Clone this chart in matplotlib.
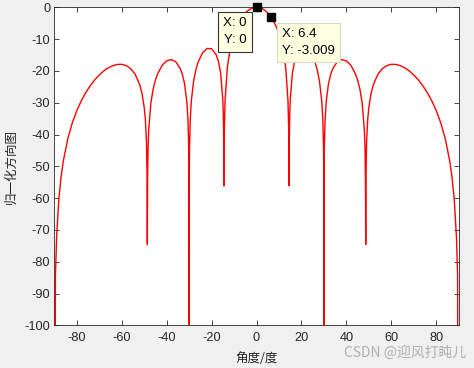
import matplotlib

matplotlib.use("Agg")
import matplotlib.pyplot as plt
import numpy as np

plt.rcParams["font.family"] = ["Liberation Sans", "Noto Sans CJK SC", "DejaVu Sans"]
plt.rcParams["axes.unicode_minus"] = False

# normalised pattern (degrees, dB); nulls fall below -100
angle_left = [-90, -89.5, -89, -88, -87, -86, -84, -82, -80, -78, -76, -74, -72,
              -70, -68, -66, -64, -62, -60, -58, -56, -54, -52, -51, -50, -49.5,
              -49, -48.7, -48.6, -48.5, -48.3, -48, -47, -46, -45, -44, -42, -40,
              -38, -36, -34, -33, -32, -31, -30.5, -30.2, -30.1, -30, -29.9, -29.8,
              -29.5, -29, -28, -27, -26, -24, -22, -20, -18, -17, -16, -15, -14.8,
              -14.6, -14.5, -14.4, -14.3, -14, -13, -12, -11, -10, -9, -8, -7,
              -6.4, -6, -5, -4, -3, -2, -1]
db_left = [-300, -84.5, -72.4, -60.4, -53.34, -48.34, -41.31, -36.33, -32.5, -29.39,
           -26.81, -24.64, -22.81, -21.28, -20.02, -19.04, -18.35, -17.96, -17.92,
           -18.32, -19.28, -21.08, -24.32, -27.03, -31.43, -35.12, -41.96, -53.36,
           -74.6, -55.0, -44.84, -38.64, -29.95, -25.69, -22.9, -20.89, -18.24,
           -16.84, -16.43, -17.08, -19.18, -21.1, -24.14, -29.78, -35.64, -43.5,
           -49.5, -300, -49.45, -43.4, -35.39, -29.28, -23.15, -19.62, -17.23,
           -14.28, -12.95, -13.01, -14.85, -16.88, -20.51, -29.13, -33.2, -41.49,
           -56.14, -45.35, -38.09, -29.33, -19.03, -14.13, -10.85, -8.41, -6.48,
           -4.93, -3.66, -3.01, -2.62, -1.79, -1.13, -0.62, -0.28, -0.07]

angle_right = [0, 1, 2, 3, 4, 5, 6, 6.4, 7, 8, 9, 10, 11, 12, 13, 14, 14.3, 14.4,
               14.5, 14.6, 14.8, 15, 16, 17, 18, 20, 22, 24, 26, 27, 28, 29, 29.5,
               29.8, 29.9, 30, 30.1, 30.2, 30.5, 31, 32, 33, 34, 36, 38, 40, 42, 44,
               45, 46, 47, 48, 48.3, 48.5, 48.6, 48.7, 49, 49.5, 50, 51, 52, 54, 56,
               58, 60, 62, 64, 66, 68, 70, 72, 74, 76, 78, 80, 82, 84, 86, 87, 88,
               89, 89.5, 90]
db_right = [0, -0.07, -0.28, -0.62, -1.13, -1.79, -2.62, -3.01, -3.66, -4.93, -6.48,
            -8.41, -10.85, -14.13, -19.03, -29.33, -38.09, -45.35, -56.14, -41.49,
            -33.2, -29.13, -20.51, -16.88, -14.85, -13.01, -12.95, -14.28, -17.23,
            -19.62, -23.15, -29.28, -35.39, -43.4, -49.45, -300, -49.5, -43.5,
            -35.64, -29.78, -24.14, -21.1, -19.18, -17.08, -16.43, -16.84, -18.24,
            -20.89, -22.9, -25.69, -29.95, -38.64, -44.84, -55.0, -74.6, -53.36,
            -41.96, -35.12, -31.43, -27.03, -24.32, -21.08, -19.28, -18.32, -17.92,
            -17.96, -18.35, -19.04, -20.02, -21.28, -22.81, -24.64, -26.81, -29.39,
            -32.5, -36.33, -41.31, -48.34, -53.34, -60.4, -72.4, -84.5, -300]

# data tips shown on the figure
tip_x = [0, 6.4]
tip_y = [0, -3.009]

xticks = [-80, -60, -40, -20, 0, 20, 40, 60, 80]
yticks = [0, -10, -20, -30, -40, -50, -60, -70, -80, -90, -100]

angles = np.array(angle_left + angle_right)
pattern = np.array(db_left + db_right)

fig = plt.figure(figsize=(4.74, 3.68), dpi=100, facecolor="#f0f0f0")
ax = fig.add_axes([0.1146, 0.116, 0.8532, 0.8641])

ax.plot(angles, pattern, color="#ff0000", linewidth=1.0)

ax.set_xlim(-90, 90)
ax.set_ylim(-100, 0)
ax.set_xticks(xticks)
ax.set_yticks(yticks)

ax.tick_params(direction="in", top=True, right=True, length=3.5, width=0.6,
               colors="#262626", labelsize=9.2)
ax.tick_params(axis="x", pad=5)
ax.tick_params(axis="y", pad=3)
for side in ax.spines.values():
    side.set_color("#262626")
    side.set_linewidth(0.6)

ax.set_xlabel("角度/度", family=["Noto Sans CJK SC"], fontsize=9,
              color="#262626")
ax.set_ylabel("归一化方向图", family=["Noto Sans CJK SC"], fontsize=9,
              color="#262626")
ax.xaxis.set_label_coords(0.5, -0.084)
ax.yaxis.set_label_coords(-0.09, 0.5)

# markers + data tip boxes
ax.plot(tip_x, tip_y, linestyle="none", marker="s", markersize=6,
        color="black", clip_on=False, zorder=5)
ax.annotate(f"X: {tip_x[0]:g}\nY: {tip_y[0]:g}", xy=(tip_x[0], tip_y[0]),
            xytext=(-10, -10), textcoords="offset pixels", ha="right", va="top",
            fontsize=9.5, linespacing=1.55,
            bbox=dict(boxstyle="square,pad=0.4", fc="#ffffe1", ec="#333333", lw=0.8),
            zorder=6)
ax.annotate(f"X: {tip_x[1]:g}\nY: {tip_y[1]:g}", xy=(tip_x[1], tip_y[1]),
            xytext=(11, -11), textcoords="offset pixels", ha="left", va="top",
            fontsize=9.5, linespacing=1.55,
            bbox=dict(boxstyle="square,pad=0.4", fc="#ffffe1", ec="#d8d8c8", lw=0.8),
            zorder=6)

fig.text(0.983, 0.022, "CSDN @迎风打盹儿", ha="right", va="bottom", fontsize=10,
         color="#b0b0b0", family=["Noto Sans CJK SC", "DejaVu Sans"])

fig.savefig("out.png", dpi=100, facecolor=fig.get_facecolor())
